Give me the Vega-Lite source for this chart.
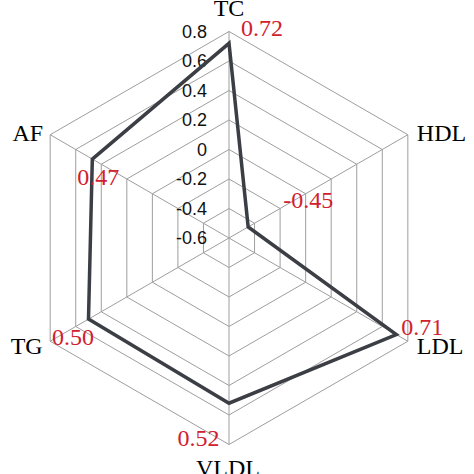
{
  "$schema": "https://vega.github.io/schema/vega-lite/v6.json",
  "width": 474,
  "height": 474,
  "padding": 0,
  "autosize": {"type": "none"},
  "background": "white",
  "config": {
    "view": {"stroke": null},
    "axis": {"disable": true},
    "locale": {"number": {"decimal": ".", "thousands": ",", "grouping": [3], "currency": ["$", ""], "minus": "-"}}
  },
  "datasets": {
    "scores": [
      {"axis": "TC", "k": 0, "value": 0.72},
      {"axis": "HDL", "k": 1, "value": -0.45},
      {"axis": "LDL", "k": 2, "value": 0.71},
      {"axis": "VLDL", "k": 3, "value": 0.52},
      {"axis": "TG", "k": 4, "value": 0.50},
      {"axis": "AF", "k": 5, "value": 0.47}
    ],
    "grid": [
      {"level": -0.4, "k": [0, 1, 2, 3, 4, 5]},
      {"level": -0.2, "k": [0, 1, 2, 3, 4, 5]},
      {"level": 0, "k": [0, 1, 2, 3, 4, 5]},
      {"level": 0.2, "k": [0, 1, 2, 3, 4, 5]},
      {"level": 0.4, "k": [0, 1, 2, 3, 4, 5]},
      {"level": 0.6, "k": [0, 1, 2, 3, 4, 5]},
      {"level": 0.8, "k": [0, 1, 2, 3, 4, 5]}
    ],
    "levels": [
      {"level": -0.6}, {"level": -0.4}, {"level": -0.2}, {"level": 0},
      {"level": 0.2}, {"level": 0.4}, {"level": 0.6}, {"level": 0.8}
    ]
  },
  "layer": [
    {
      "data": {"name": "grid"},
      "transform": [
        {"flatten": ["k"]},
        {"calculate": "PI/2 - datum.k*PI/3", "as": "a"},
        {"calculate": "(datum.level+0.6)/1.4", "as": "rr"},
        {"calculate": "datum.rr*cos(datum.a)", "as": "px"},
        {"calculate": "datum.rr*sin(datum.a)", "as": "py"}
      ],
      "mark": {"type": "line", "interpolate": "linear-closed", "stroke": "#9e9e9e", "strokeWidth": 1},
      "encoding": {
        "x": {"field": "px", "type": "quantitative", "scale": {"domain": [-1.109, 1.1864], "nice": false, "zero": false}},
        "y": {"field": "py", "type": "quantitative", "scale": {"domain": [-1.1429, 1.1525], "nice": false, "zero": false}},
        "detail": {"field": "level", "type": "nominal"},
        "order": {"field": "k", "type": "quantitative"}
      }
    },
    {
      "data": {"name": "scores"},
      "transform": [
        {"calculate": "PI/2 - datum.k*PI/3", "as": "a"},
        {"calculate": "cos(datum.a)", "as": "ox"},
        {"calculate": "sin(datum.a)", "as": "oy"}
      ],
      "mark": {"type": "rule", "stroke": "#9e9e9e", "strokeWidth": 1},
      "encoding": {
        "x": {"field": "ox", "type": "quantitative", "scale": {"domain": [-1.109, 1.1864], "nice": false, "zero": false}},
        "y": {"field": "oy", "type": "quantitative", "scale": {"domain": [-1.1429, 1.1525], "nice": false, "zero": false}},
        "x2": {"datum": 0},
        "y2": {"datum": 0}
      }
    },
    {
      "data": {"name": "levels"},
      "transform": [
        {"calculate": "(datum.level+0.6)/1.4", "as": "rr"},
        {"calculate": "datum.rr*cos(PI/2)", "as": "px"},
        {"calculate": "datum.rr*sin(PI/2)", "as": "py"}
      ],
      "mark": {"type": "text", "align": "right", "baseline": "middle", "dx": -22, "dy": 1.5, "font": "Liberation Sans", "fontSize": 18, "fill": "#111111"},
      "encoding": {
        "x": {"field": "px", "type": "quantitative", "scale": {"domain": [-1.109, 1.1864], "nice": false, "zero": false}},
        "y": {"field": "py", "type": "quantitative", "scale": {"domain": [-1.1429, 1.1525], "nice": false, "zero": false}},
        "text": {"field": "level", "type": "quantitative", "format": ".1~f"}
      }
    },
    {
      "data": {"name": "scores"},
      "transform": [
        {"calculate": "PI/2 - datum.k*PI/3", "as": "a"},
        {"calculate": "(datum.value+0.6)/1.4", "as": "rr"},
        {"calculate": "datum.rr*cos(datum.a)", "as": "px"},
        {"calculate": "datum.rr*sin(datum.a)", "as": "py"}
      ],
      "mark": {"type": "line", "interpolate": "linear-closed", "stroke": "#3b3e44", "strokeWidth": 3.5, "strokeJoin": "miter"},
      "encoding": {
        "x": {"field": "px", "type": "quantitative", "scale": {"domain": [-1.109, 1.1864], "nice": false, "zero": false}},
        "y": {"field": "py", "type": "quantitative", "scale": {"domain": [-1.1429, 1.1525], "nice": false, "zero": false}},
        "order": {"field": "k", "type": "quantitative"}
      }
    },
    {
      "data": {"name": "scores"},
      "transform": [
        {"calculate": "PI/2 - datum.k*PI/3", "as": "a"},
        {"calculate": "cos(datum.a)", "as": "ox"},
        {"calculate": "sin(datum.a)", "as": "oy"}
      ],
      "encoding": {
        "x": {"field": "ox", "type": "quantitative", "scale": {"domain": [-1.109, 1.1864], "nice": false, "zero": false}},
        "y": {"field": "oy", "type": "quantitative", "scale": {"domain": [-1.1429, 1.1525], "nice": false, "zero": false}},
        "text": {"field": "axis", "type": "nominal"}
      },
      "layer": [
        {"transform": [{"filter": "datum.axis === 'TC'"}], "mark": {"type": "text", "align": "center", "baseline": "alphabetic", "dx": 0, "dy": -15, "font": "Liberation Serif", "fontSize": 24, "fill": "#000000"}},
        {"transform": [{"filter": "datum.axis === 'HDL'"}], "mark": {"type": "text", "align": "left", "baseline": "alphabetic", "dx": 9, "dy": 6, "font": "Liberation Serif", "fontSize": 24, "fill": "#000000"}},
        {"transform": [{"filter": "datum.axis === 'LDL'"}], "mark": {"type": "text", "align": "left", "baseline": "alphabetic", "dx": 9, "dy": 13, "font": "Liberation Serif", "fontSize": 24, "fill": "#000000"}},
        {"transform": [{"filter": "datum.axis === 'VLDL'"}], "mark": {"type": "text", "align": "center", "baseline": "alphabetic", "dx": -1, "dy": 31.5, "font": "Liberation Serif", "fontSize": 24, "fill": "#000000"}},
        {"transform": [{"filter": "datum.axis === 'TG'"}], "mark": {"type": "text", "align": "right", "baseline": "alphabetic", "dx": -7.5, "dy": 13, "font": "Liberation Serif", "fontSize": 24, "fill": "#000000"}},
        {"transform": [{"filter": "datum.axis === 'AF'"}], "mark": {"type": "text", "align": "right", "baseline": "alphabetic", "dx": -7, "dy": 6, "font": "Liberation Serif", "fontSize": 24, "fill": "#000000"}}
      ]
    },
    {
      "data": {"name": "scores"},
      "transform": [
        {"calculate": "PI/2 - datum.k*PI/3", "as": "a"},
        {"calculate": "(datum.value+0.6)/1.4", "as": "rr"},
        {"calculate": "datum.rr*cos(datum.a)", "as": "px"},
        {"calculate": "datum.rr*sin(datum.a)", "as": "py"}
      ],
      "encoding": {
        "x": {"field": "px", "type": "quantitative", "scale": {"domain": [-1.109, 1.1864], "nice": false, "zero": false}},
        "y": {"field": "py", "type": "quantitative", "scale": {"domain": [-1.1429, 1.1525], "nice": false, "zero": false}},
        "text": {"field": "value", "type": "quantitative", "format": ".2f"}
      },
      "layer": [
        {"transform": [{"filter": "datum.axis === 'TC'"}], "mark": {"type": "text", "align": "center", "baseline": "alphabetic", "dx": 33, "dy": -7, "font": "Liberation Serif", "fontSize": 24, "fill": "#d0212e"}},
        {"transform": [{"filter": "datum.axis === 'HDL'"}], "mark": {"type": "text", "align": "center", "baseline": "alphabetic", "dx": 60, "dy": -19, "font": "Liberation Serif", "fontSize": 24, "fill": "#d0212e"}},
        {"transform": [{"filter": "datum.axis === 'LDL'"}], "mark": {"type": "text", "align": "center", "baseline": "alphabetic", "dx": 26, "dy": 0, "font": "Liberation Serif", "fontSize": 24, "fill": "#d0212e"}},
        {"transform": [{"filter": "datum.axis === 'VLDL'"}], "mark": {"type": "text", "align": "center", "baseline": "alphabetic", "dx": -30.5, "dy": 43, "font": "Liberation Serif", "fontSize": 24, "fill": "#d0212e"}},
        {"transform": [{"filter": "datum.axis === 'TG'"}], "mark": {"type": "text", "align": "center", "baseline": "alphabetic", "dx": -15.5, "dy": 26, "font": "Liberation Serif", "fontSize": 24, "fill": "#d0212e"}},
        {"transform": [{"filter": "datum.axis === 'AF'"}], "mark": {"type": "text", "align": "center", "baseline": "alphabetic", "dx": 6, "dy": 26, "font": "Liberation Serif", "fontSize": 24, "fill": "#d0212e"}}
      ]
    }
  ]
}
